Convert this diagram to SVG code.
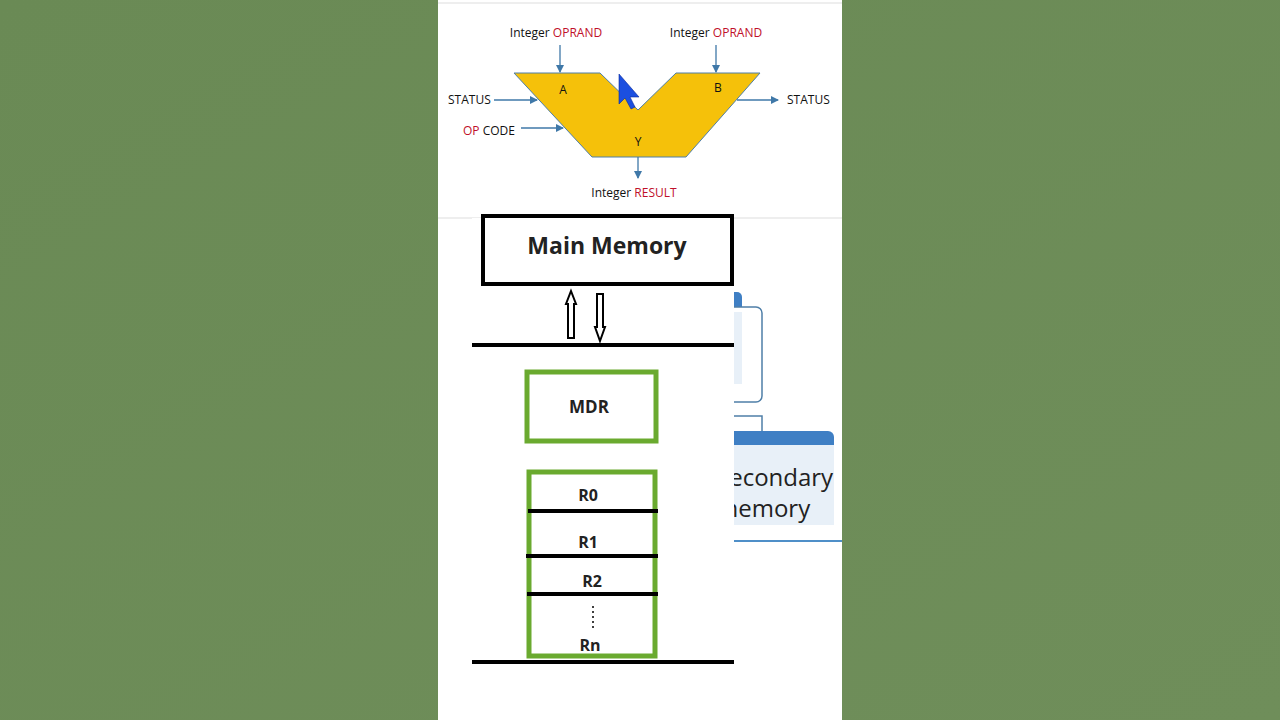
<svg xmlns="http://www.w3.org/2000/svg" width="1280" height="720" viewBox="0 0 1280 720">
<defs>
<linearGradient id="bg" x1="0" y1="0" x2="1" y2="1"><stop offset="0" stop-color="#6a8a55"/><stop offset="1" stop-color="#6f8e5a"/></linearGradient>
<marker id="ah" markerWidth="8" markerHeight="8" refX="7" refY="4" orient="auto" markerUnits="userSpaceOnUse"><path d="M0,0 L8,4 L0,8 Z" fill="#3f78a8"/></marker>
<clipPath id="rc"><rect x="734" y="220" width="108" height="500"/></clipPath>
</defs>
<style>
.t{font-family:"Open Sans","Liberation Sans",sans-serif;font-size:12px;fill:#111}
.r{fill:#c0102a}
.c{stroke:#3f78a8;stroke-width:1.3;fill:none;marker-end:url(#ah)}
.b{font-family:"Open Sans","Liberation Sans",sans-serif;font-weight:bold;fill:#222;text-anchor:middle}
.g{fill:none;stroke:#6aaa2f;stroke-width:5}
.k{stroke:#000;stroke-width:4}
</style>
<rect width="1280" height="720" fill="url(#bg)"/>
<rect x="438" y="0" width="404" height="720" fill="#fff"/>
<line x1="438" y1="3" x2="842" y2="3" stroke="#ddd"/>
<line x1="438" y1="218" x2="842" y2="218" stroke="#ddd"/>
<g id="alu">
<polygon points="514,73 600,73 638,110 676,73 760,73 686,157 592,157" fill="#f5c10a" stroke="#4f7fa8" stroke-width="1"/>
<text class="t" x="563" y="94" text-anchor="middle">A</text>
<text class="t" x="718" y="92" text-anchor="middle">B</text>
<text class="t" x="638" y="146" text-anchor="middle">Y</text>
<polygon points="619,74 619,104 625,98 631,109 635,107 630,97 639,97" fill="#1b4fe0" stroke="#0a2a9a" stroke-width="0.6"/>
</g>
<g id="labels">
<text class="t" x="556" y="37" text-anchor="middle">Integer <tspan class="r">OPRAND</tspan></text>
<text class="t" x="716" y="37" text-anchor="middle">Integer <tspan class="r">OPRAND</tspan></text>
<text class="t" x="448" y="104">STATUS</text>
<text class="t" x="463" y="135"><tspan class="r">OP</tspan> CODE</text>
<text class="t" x="787" y="104">STATUS</text>
<text class="t" x="634" y="197" text-anchor="middle">Integer <tspan class="r">RESULT</tspan></text>
</g>
<g id="connectors">
<line class="c" x1="560" y1="45" x2="560" y2="72"/>
<line class="c" x1="716" y1="45" x2="716" y2="72"/>
<line class="c" x1="494" y1="100" x2="537" y2="100"/>
<line class="c" x1="521" y1="128" x2="563" y2="128"/>
<line class="c" x1="737" y1="100" x2="778" y2="100"/>
<line class="c" x1="638" y1="157" x2="638" y2="178"/>
</g>
<g id="right-bg" clip-path="url(#rc)">
<rect x="720" y="292" width="22" height="30" rx="5" fill="#3f7fc4"/>
<rect x="700" y="307" width="62" height="95" rx="6" fill="#fff" stroke="#4f7fa8" stroke-width="1.5"/>
<rect x="700" y="312" width="42" height="72" fill="#e8f0f8"/>
<path d="M734,416 H762 V431" fill="none" stroke="#4f7fa8" stroke-width="1.5"/>
<rect x="700" y="431" width="134" height="30" rx="6" fill="#3f7fc4"/>
<rect x="700" y="445" width="134" height="80" fill="#e8f0f8"/>
<line x1="734" y1="541" x2="842" y2="541" stroke="#4f8fc8" stroke-width="2"/>
<text x="716" y="486" font-family="'Open Sans','Liberation Sans',sans-serif" font-size="24" fill="#222">Secondary</text>
<text x="716" y="517" font-family="'Open Sans','Liberation Sans',sans-serif" font-size="24" fill="#222">memory</text>
</g>
<rect x="472" y="218" width="262" height="502" fill="#fff"/>
<g id="main-memory">
<rect x="483" y="216" width="249" height="68" fill="#fff" stroke="#000" stroke-width="4"/>
<text class="b" x="607" y="254" font-size="23">Main Memory</text>
</g>
<g id="bus-arrows">
<path d="M571,291 L576,304 L574,304 L574,338 L568,338 L568,304 L566,304 Z" fill="#fff" stroke="#000" stroke-width="2"/>
<path d="M600,341 L605,327 L603,327 L603,294 L597,294 L597,327 L595,327 Z" fill="#fff" stroke="#000" stroke-width="2"/>
</g>
<line class="k" x1="472" y1="345" x2="734" y2="345"/>
<g id="mdr">
<rect class="g" x="527" y="372" width="129" height="69"/>
<text class="b" x="589" y="413" font-size="17">MDR</text>
</g>
<g id="registers">
<rect class="g" x="529" y="472" width="126" height="184"/>
<line class="k" x1="528" y1="511" x2="658" y2="511"/>
<line class="k" x1="526" y1="556" x2="658" y2="556"/>
<line class="k" x1="527" y1="594" x2="658" y2="594"/>
<text class="b" x="588" y="501" font-size="16">R0</text>
<text class="b" x="588" y="548" font-size="16">R1</text>
<text class="b" x="592" y="587" font-size="16">R2</text>
<line x1="593" y1="606" x2="593" y2="630" stroke="#000" stroke-width="1.5" stroke-dasharray="2,3"/>
<text class="b" x="590" y="651" font-size="16">Rn</text>
</g>
<line class="k" x1="472" y1="662" x2="734" y2="662"/>
</svg>
